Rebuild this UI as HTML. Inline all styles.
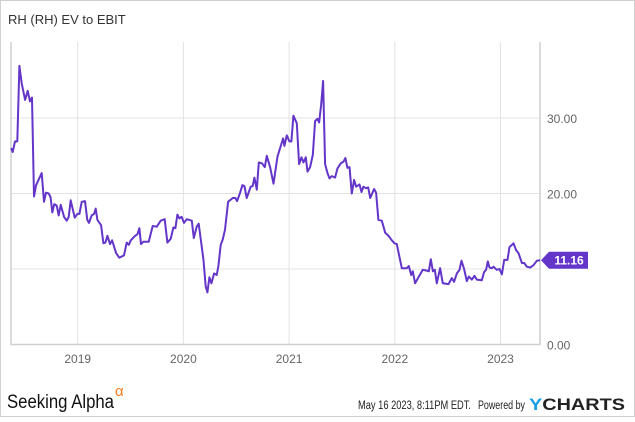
<!DOCTYPE html>
<html><head><meta charset="utf-8"><style>
html,body{margin:0;padding:0;background:#fff;}
body{width:635px;height:417px;overflow:hidden;position:relative;font-family:"Liberation Sans",sans-serif;}
</style></head><body>
<svg width="635" height="417" viewBox="0 0 635 417" xmlns="http://www.w3.org/2000/svg">
<rect x="0.5" y="0.5" width="634" height="416" fill="#fff" stroke="#d0d0d0"/>
<text x="8" y="24" font-size="13" fill="#333" font-family="Liberation Sans, sans-serif">RH (RH) EV to EBIT</text>
<g id="grid"></g>
<g id="axes"></g>
<polyline id="line" fill="none" stroke="#6435c9" stroke-width="2" stroke-linejoin="round"/>
<g id="label"></g>
<text x="7" y="408" font-size="19" fill="#111" textLength="107" lengthAdjust="spacingAndGlyphs">Seeking Alpha</text>
<text x="115" y="396" font-size="15" fill="#f57b20">α</text>
<text x="358" y="409" font-size="11.5" fill="#222" textLength="113" lengthAdjust="spacingAndGlyphs">May 16 2023, 8:11PM EDT.</text>
<text x="478" y="409" font-size="11.5" fill="#222" textLength="47" lengthAdjust="spacingAndGlyphs">Powered by</text>
<text x="529" y="410" font-size="17" font-weight="bold" fill="#222" textLength="96" lengthAdjust="spacingAndGlyphs"><tspan fill="#1a9fe0">Y</tspan>CHARTS</text>
</svg>
<script>
const yTicks=[0,10,20,30];
const yTickLabels=["0.00","10.00","20.00","30.00"];
const years=[2019,2020,2021,2022,2023];
const dates=[2018.37,2018.385,2018.407,2018.429,2018.448,2018.47,2018.502,2018.527,2018.549,2018.568,2018.587,2018.606,2018.659,2018.681,2018.7,2018.726,2018.744,2018.76,2018.779,2018.801,2018.82,2018.839,2018.871,2018.896,2018.915,2018.934,2018.972,2018.997,2019.016,2019.038,2019.069,2019.091,2019.107,2019.132,2019.155,2019.17,2019.186,2019.221,2019.243,2019.262,2019.281,2019.306,2019.325,2019.363,2019.394,2019.438,2019.464,2019.483,2019.502,2019.543,2019.565,2019.584,2019.599,2019.621,2019.653,2019.672,2019.71,2019.748,2019.785,2019.823,2019.849,2019.88,2019.905,2019.924,2019.943,2019.962,2019.984,2020.006,2020.032,2020.079,2020.098,2020.126,2020.145,2020.189,2020.211,2020.227,2020.246,2020.265,2020.29,2020.315,2020.331,2020.353,2020.372,2020.394,2020.423,2020.467,2020.492,2020.508,2020.536,2020.558,2020.577,2020.599,2020.637,2020.656,2020.672,2020.694,2020.713,2020.744,2020.77,2020.789,2020.82,2020.852,2020.89,2020.943,2020.956,2020.978,2021.003,2021.022,2021.041,2021.073,2021.095,2021.117,2021.136,2021.158,2021.174,2021.199,2021.224,2021.246,2021.268,2021.284,2021.303,2021.322,2021.341,2021.363,2021.382,2021.404,2021.435,2021.457,2021.489,2021.514,2021.533,2021.552,2021.571,2021.593,2021.615,2021.634,2021.666,2021.685,2021.703,2021.729,2021.748,2021.767,2021.804,2021.823,2021.845,2021.877,2021.909,2021.94,2021.972,2021.997,2022.019,2022.066,2022.114,2022.132,2022.155,2022.17,2022.192,2022.224,2022.265,2022.297,2022.322,2022.341,2022.36,2022.378,2022.397,2022.429,2022.454,2022.508,2022.539,2022.561,2022.587,2022.612,2022.631,2022.656,2022.681,2022.7,2022.729,2022.754,2022.776,2022.823,2022.845,2022.864,2022.88,2022.896,2022.918,2022.934,2022.965,2022.991,2023.013,2023.035,2023.066,2023.085,2023.123,2023.148,2023.17,2023.202,2023.224,2023.249,2023.281,2023.312,2023.344,2023.375];
const values=[26.0,25.5,26.9,26.9,36.9,34.6,32.4,33.6,32.2,32.7,19.6,21.1,22.7,18.9,20.1,20.0,19.5,17.5,18.6,18.4,17.1,18.5,16.9,16.4,16.9,19.1,16.8,17.3,17.3,18.9,19.0,16.5,16.1,17.1,17.3,18.0,16.5,15.8,13.4,13.5,14.4,13.3,13.8,12.1,11.5,11.8,13.5,13.2,13.8,14.4,14.6,15.4,13.3,13.6,13.6,13.6,15.7,15.6,16.4,16.6,13.5,14.0,15.5,15.4,17.2,16.7,16.9,16.1,16.6,16.4,14.1,15.6,16.0,11.3,7.7,6.9,8.9,8.1,9.4,9.2,10.4,13.2,13.9,15.2,18.9,19.4,19.4,19.0,20.1,21.1,21.0,19.4,20.9,21.0,22.1,20.5,24.1,24.0,23.5,25.0,23.5,21.3,24.9,27.3,26.3,27.7,26.9,26.9,30.3,29.3,23.9,24.8,24.1,24.8,22.9,23.5,25.1,29.6,29.9,29.4,31.7,34.9,23.9,22.7,22.0,22.3,22.1,23.3,24.0,24.2,24.7,23.4,23.5,20.0,21.8,20.9,21.2,20.2,20.9,20.7,20.8,19.4,20.6,20.1,16.5,16.4,14.8,14.4,13.8,13.4,13.3,10.1,10.1,10.4,9.2,9.7,8.1,8.9,9.9,9.8,9.7,11.3,9.7,9.9,8.1,10.1,8.1,8.0,8.8,8.3,9.4,9.9,11.1,10.0,8.4,9.0,8.6,9.1,8.6,8.5,9.6,9.9,11.0,10.2,10.1,10.3,9.9,10.0,9.3,11.2,11.2,12.9,13.4,12.5,12.1,10.8,10.8,10.3,10.2,10.5,11.1,11.16];
const lastLabel="11.16";

const NS="http://www.w3.org/2000/svg";
const L=11,R=540,T=42,B=344.5;
const x=d=>77.7+(d-2019)*105.7;
const y=v=>B-v*7.55;
const grid=document.getElementById('grid'),axes=document.getElementById('axes');
function mk(tag,attrs,parent){const e=document.createElementNS(NS,tag);for(const k in attrs)e.setAttribute(k,attrs[k]);parent.appendChild(e);return e;}
const lastY=y(values[values.length-1]);
yTicks.forEach((t,i)=>{
  if(t>0){const g=mk('line',{x1:L,x2:R,y1:y(t),y2:y(t),stroke:'#e3e3e3','stroke-width':1},grid);
  
  }
  if(Math.abs(y(t)-lastY)<14) return;
  const tx=mk('text',{x:547,y:y(t)+5,'font-size':12,fill:'#666'},axes);
  tx.textContent=yTickLabels[i];
  
  
});
years.forEach(yr=>{
  const g=mk('line',{x1:x(yr),x2:x(yr),y1:T,y2:B,stroke:'#e3e3e3','stroke-width':1},grid);
  
  
  const tx=mk('text',{x:x(yr),y:363,'font-size':12,fill:'#666','text-anchor':'middle'},axes);
  tx.textContent=String(yr);
  
  
});
const box=mk('path',{d:`M${L} ${T}V${B}H${R}V${T}`,fill:'none',stroke:'#cfcfcf','stroke-width':1.5},axes);


document.getElementById('line').setAttribute('points',dates.map((d,i)=>x(d).toFixed(1)+','+y(values[i]).toFixed(1)).join(' '));
const ly=lastY;
const lab=document.getElementById('label');
const tag=mk('path',{d:`M541 ${ly}L549 ${ly-8.5}H588V${ly+8.5}H549Z`,fill:'#6435c9'},lab);


const lt=mk('text',{x:569,y:ly+4.5,'font-size':12,'font-weight':'bold',fill:'#fff','text-anchor':'middle'},lab);
lt.textContent=lastLabel;


</script>
</body></html>
